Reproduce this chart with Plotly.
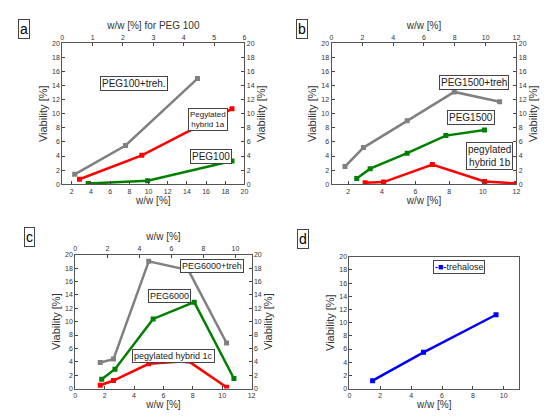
import plotly.graph_objects as go

# panel a
a_treh_x = [2.3, 7.6, 15.1]; a_treh_y = [1.4, 5.5, 15.0]
a_hyb_x = [2.8, 9.3, 18.7]; a_hyb_y = [0.7, 4.1, 10.7]
a_peg_x = [3.7, 9.9, 18.7]; a_peg_y = [0.1, 0.5, 3.3]
# panel b
b_treh_x = [1.8, 2.9, 5.5, 8.3, 11.0]; b_treh_y = [2.5, 5.2, 9.0, 13.1, 11.7]
b_peg_x = [2.5, 3.3, 5.5, 7.8, 10.1]; b_peg_y = [0.8, 2.2, 4.4, 6.9, 7.7]
b_hyb_x = [3.0, 4.1, 7.0, 10.1, 12.0]; b_hyb_y = [0.2, 0.3, 2.8, 0.4, 0.1]
# panel c
c_treh_x = [1.7, 2.6, 5.0, 7.7, 10.3]; c_treh_y = [3.9, 4.4, 19.0, 17.7, 6.8]
c_peg_x = [1.8, 2.7, 5.3, 8.1, 10.8]; c_peg_y = [1.4, 2.9, 10.4, 12.9, 1.5]
c_hyb_x = [1.7, 2.6, 5.0, 7.7, 10.3]; c_hyb_y = [0.5, 1.2, 3.7, 4.1, 0.2]
# panel d
d_x = [1.5, 4.8, 9.5]; d_y = [1.2, 5.5, 11.2]

GRAY, RED, GREEN, BLUE = "#808080", "#ff0000", "#008000", "#0000ff"
FONT = "Arial"

fig = go.Figure()

def line(x, y, c, xa, ya, name=""):
    fig.add_trace(go.Scatter(x=x, y=y, mode="lines+markers", name=name,
                             line=dict(color=c, width=2.5),
                             marker=dict(symbol="square", size=5, color=c),
                             xaxis=xa, yaxis=ya, showlegend=False))

line(a_treh_x, a_treh_y, GRAY, "x", "y")
line(a_hyb_x, a_hyb_y, RED, "x", "y")
line(a_peg_x, a_peg_y, GREEN, "x", "y")
line(b_treh_x, b_treh_y, GRAY, "x2", "y2")
line(b_peg_x, b_peg_y, GREEN, "x2", "y2")
line(b_hyb_x, b_hyb_y, RED, "x2", "y2")
line(c_treh_x, c_treh_y, GRAY, "x3", "y3")
line(c_peg_x, c_peg_y, GREEN, "x3", "y3")
line(c_hyb_x, c_hyb_y, RED, "x3", "y3")
line(d_x, d_y, BLUE, "x4", "y4")

panels = {
    1: dict(dom_x=[0.096, 0.431], dom_y=[0.582, 0.924], xr=[1, 20], xd=2, top=[0, 6], topd=1, top_title="w/w [%] for PEG 100"),
    2: dict(dom_x=[0.591, 0.931], dom_y=[0.582, 0.924], xr=[1, 12], xd=2, top=[0, 12], topd=2, top_title="w/w [%]"),
    3: dict(dom_x=[0.12, 0.444], dom_y=[0.086, 0.411], xr=[0, 12], xd=2, top=[0, 11], topd=2, top_title="w/w [%]"),
    4: dict(dom_x=[0.624, 0.936], dom_y=[0.086, 0.406], xr=[0, 11], xd=2, top=None),
}

tick = dict(ticks="inside", ticklen=3, tickfont=dict(size=7, color="#333"),
            showgrid=False, zeroline=False, showline=True, linecolor="#555", linewidth=1)
ttl = dict(color="#333")
layout = {}
for i, p in panels.items():
    s = "" if i == 1 else str(i)
    layout["xaxis" + s] = dict(domain=p["dom_x"], anchor="y" + s, range=p["xr"], dtick=p["xd"],
                               title=dict(text="w/w [%]", font=dict(size=10, **ttl), standoff=2),
                               mirror=p["top"] is None, **tick)
    layout["yaxis" + s] = dict(domain=p["dom_y"], anchor="x" + s, range=[0, 20], dtick=2,
                               title=dict(text="Viability [%]", font=dict(size=11, **ttl), standoff=2),
                               mirror=p["top"] is None, **tick)
    if p["top"] is not None:
        layout["xaxis" + str(i + 4)] = dict(overlaying="x" + s, side="top", anchor="y" + s,
                                            range=p["top"], dtick=p["topd"],
                                            title=dict(text=p["top_title"], font=dict(size=10, **ttl), standoff=2),
                                            **tick)
        layout["yaxis" + str(i + 4)] = dict(overlaying="y" + s, side="right", anchor="x" + s,
                                            range=[0, 20], dtick=2,
                                            title=dict(text="Viability [%]", font=dict(size=11, **ttl), standoff=2),
                                            **tick)
fig.update_layout(**layout)
for i in [1, 2, 3]:
    fig.add_trace(go.Scatter(x=[], y=[], xaxis="x" + str(i + 4), yaxis="y" + str(i + 4), showlegend=False))

box = dict(showarrow=False, bordercolor="#444", borderwidth=1, bgcolor="white", borderpad=1)
notes = [
    ("x", "y", 8.5, 14.3, "PEG100+treh.", 10),
    ("x", "y", 16.2, 9.2, "Pegylated<br>hybrid 1a", 8),
    ("x", "y", 16.5, 4.0, "PEG100", 10),
    ("x2", "y2", 9.5, 14.5, "PEG1500+treh", 10),
    ("x2", "y2", 9.3, 9.5, "PEG1500", 10),
    ("x2", "y2", 10.4, 4.0, "pegylated<br>hybrid 1b", 10),
    ("x3", "y3", 9.3, 18.3, "PEG6000+treh", 9),
    ("x3", "y3", 6.4, 13.8, "PEG6000", 9),
    ("x3", "y3", 6.7, 4.9, "pegylated hybrid 1c", 9),
    ("x4", "y4", 7.1, 18.4, "<b style='color:blue'>-■-</b>trehalose", 9),
]
for xa, ya, x, y, t, sz in notes:
    fig.add_annotation(xref=xa, yref=ya, x=x, y=y, text=t, font=dict(size=sz, color="#222"), **box)

for lab, x, y in [("a", 0.015, 0.935), ("b", 0.525, 0.935), ("c", 0.025, 0.43), ("d", 0.528, 0.425)]:
    fig.add_annotation(xref="paper", yref="paper", x=x, y=y, text=lab, font=dict(size=14, color="black"),
                       xanchor="left", yanchor="bottom", **box)

fig.update_layout(width=550, height=419, margin=dict(l=0, r=0, t=0, b=0),
                  paper_bgcolor="white", plot_bgcolor="white", font=dict(family=FONT))
fig.write_html("out.html")
